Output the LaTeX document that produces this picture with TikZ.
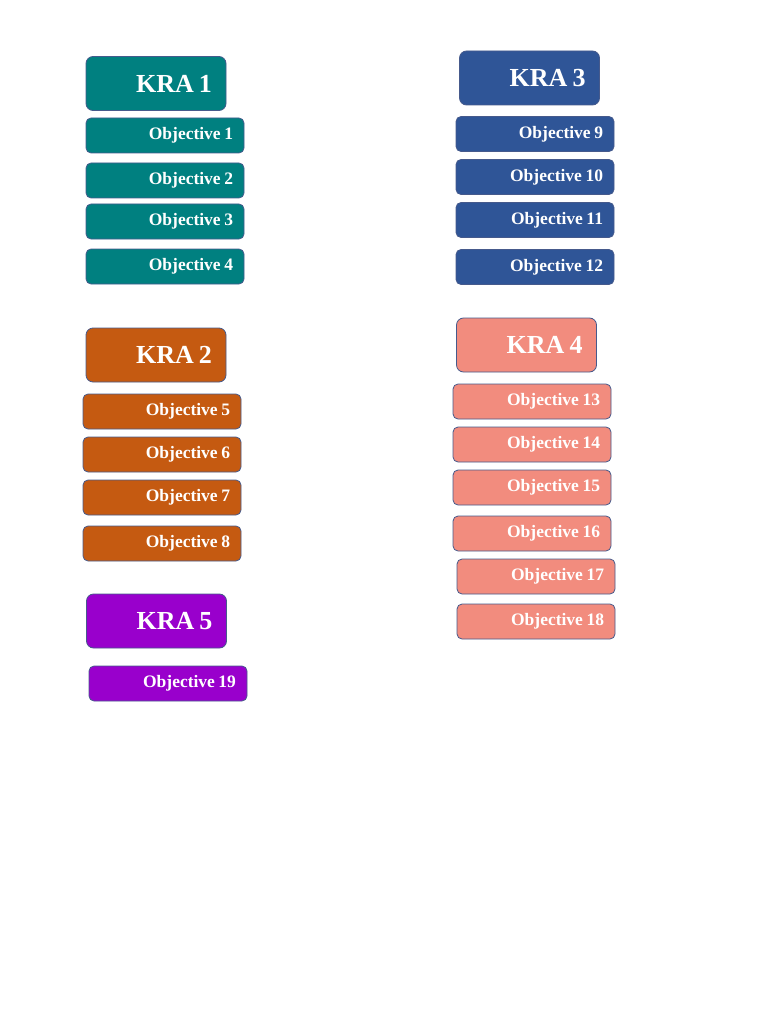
\documentclass[tikz,border=0pt]{standalone}
\usepackage{fontspec}
\setmainfont{Liberation Serif}
\definecolor{tealkra}{RGB}{0,128,128}
\definecolor{bluekra}{RGB}{47,85,151}
\definecolor{orangekra}{RGB}{197,90,17}
\definecolor{salmonkra}{RGB}{242,140,126}
\definecolor{purplekra}{RGB}{153,0,204}
\definecolor{edgekra}{RGB}{70,90,140}
\newcommand{\tightspace}{\spaceskip=.2em\relax}
\begin{document}
\begin{tikzpicture}[x=1pt,y=-1pt,line join=round]
    \tikzset{kra/.style={draw=edgekra,line width=.8pt,rounded corners=7pt,text=white,
            font=\bfseries\fontsize{26}{28}\selectfont,minimum height=54pt,
            text width=112pt,inner xsep=14pt,align=right},
        obj/.style={draw=edgekra,line width=.8pt,rounded corners=5pt,text=white,
            font=\bfseries\fontsize{17.5}{19}\selectfont,minimum height=35pt,
            text width=136pt,inner xsep=11pt,align=right}}
    \useasboundingbox (0,0) rectangle (768,1024);
    % key result areas
    \node[kra,fill=tealkra] (kra1) at (156,83.5) {\tightspace KRA 1};
    \node[kra,fill=orangekra] (kra2) at (156,355) {\tightspace KRA 2};
    \node[kra,fill=bluekra] (kra3) at (529.5,78) {\tightspace KRA 3};
    \node[kra,fill=salmonkra] (kra4) at (526.5,345) {\tightspace KRA 4};
    \node[kra,fill=purplekra] (kra5) at (156.5,621) {\tightspace KRA 5};
    % objectives
    \foreach \n/\y in {1/135.5,2/180.5,3/221.5,4/266.5}
        \node[obj,fill=tealkra] (obj\n) at (165,\y) {\tightspace Objective \n};
    \foreach \n/\y in {5/411.5,6/454.5,7/497.5,8/543.5}
        \node[obj,fill=orangekra] (obj\n) at (162,\y) {\tightspace Objective \n};
    \foreach \n/\y in {9/134,10/177,11/220,12/267}
        \node[obj,fill=bluekra] (obj\n) at (535,\y) {\tightspace Objective \n};
    \foreach \n/\y in {13/401.5,14/444.5,15/487.5,16/533.5}
        \node[obj,fill=salmonkra] (obj\n) at (532,\y) {\tightspace Objective \n};
    \foreach \n/\y in {17/576.5,18/621.5}
        \node[obj,fill=salmonkra] (obj\n) at (536,\y) {\tightspace Objective \n};
    \node[obj,fill=purplekra] (obj19) at (168,683.5) {\tightspace Objective 19};
\end{tikzpicture}
\end{document}
